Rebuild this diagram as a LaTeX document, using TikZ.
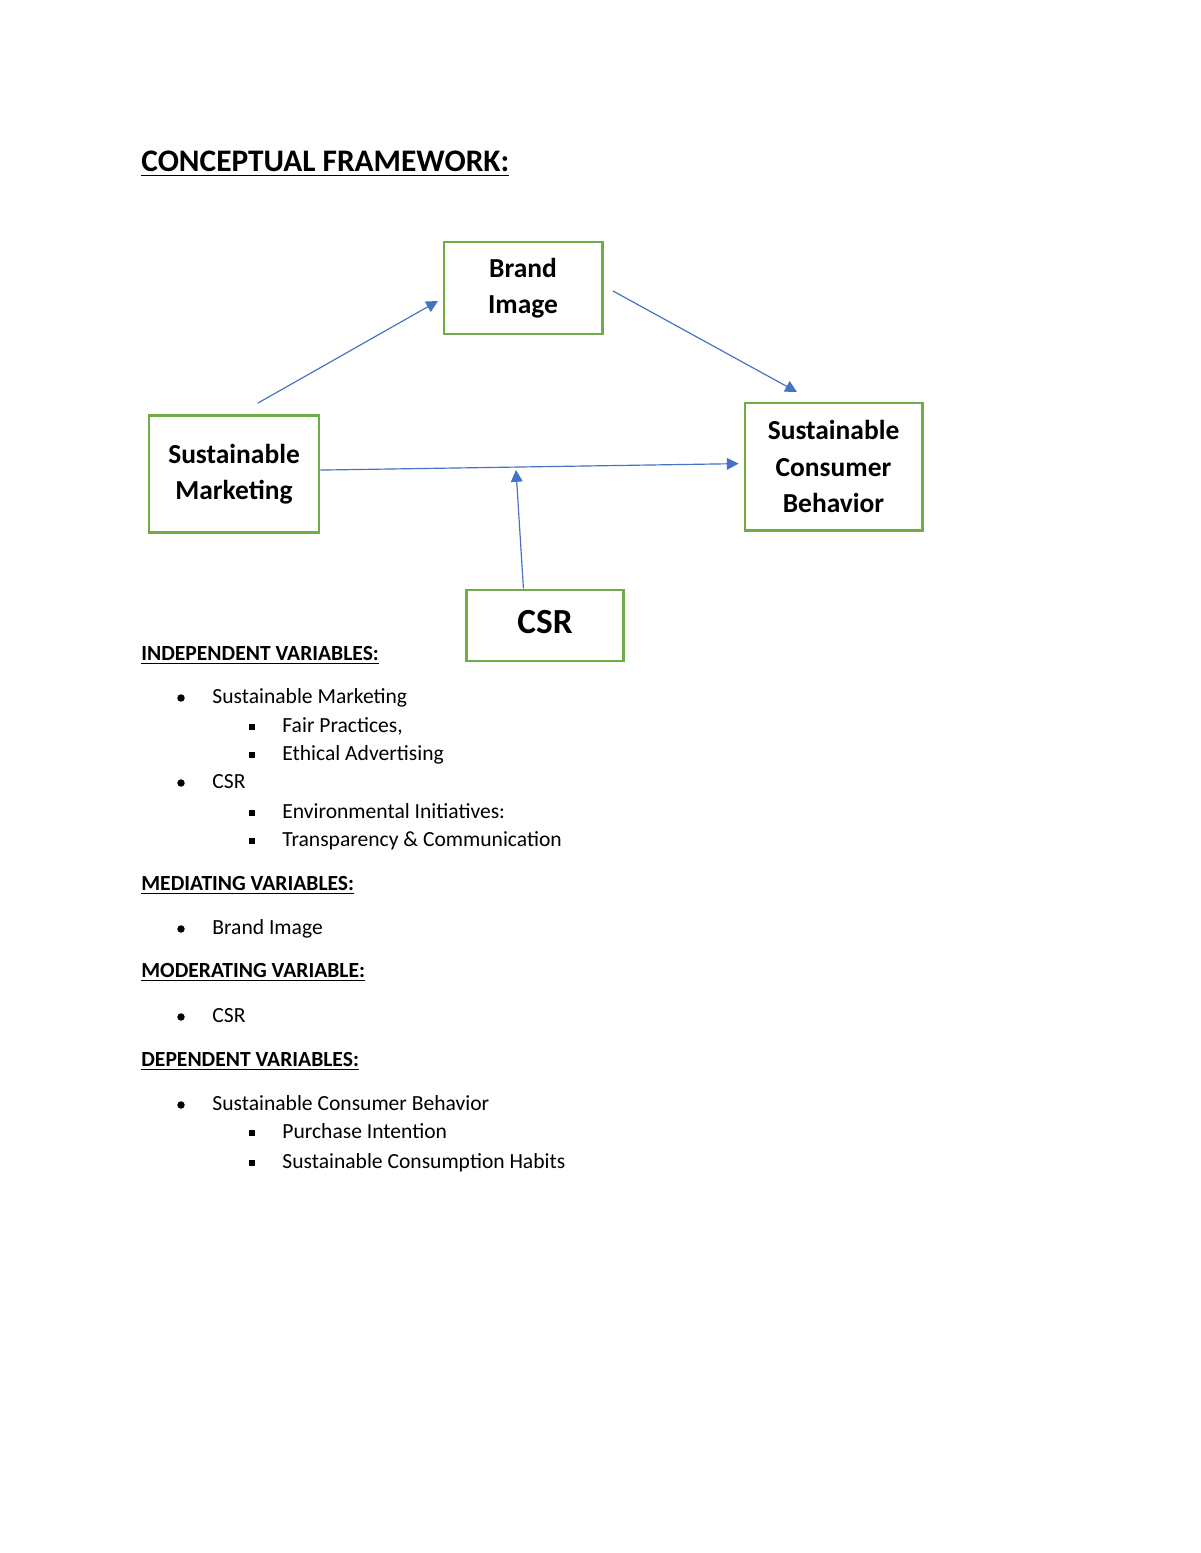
\documentclass[tikz,border=0pt]{standalone}
\usepackage{fontspec}
\setmainfont{Carlito}
\usetikzlibrary{arrows.meta}
\definecolor{boxgreen}{HTML}{70AD47}
\definecolor{linkblue}{HTML}{4472C4}
\tikzset{
  varbox/.style={draw=boxgreen, line width=1.5pt, align=center, inner sep=0pt,
    font=\fontsize{14}{18.4}\selectfont\bfseries},
  link/.style={draw=linkblue, line width=0.6pt, -{Triangle[length=6pt,width=6pt]}},
  head/.style={anchor=base west, inner sep=0pt, font=\fontsize{11}{13}\selectfont\bfseries},
  item/.style={anchor=base west, inner sep=0pt, font=\fontsize{11}{13}\selectfont},
}
\begin{document}
\begin{tikzpicture}[x=0.51pt,y=-0.51pt]
  \path[fill=white, use as bounding box] (0,0) rectangle (1200,1553);

  % title
  \node[anchor=base west, inner sep=0pt, font=\fontsize{16}{19}\selectfont\bfseries] (title) at (141,172) {\underline{CONCEPTUAL FRAMEWORK:}};

  % boxes
  \node[varbox, minimum width=80.6pt, minimum height=46.9pt] (brand) at (523,288) {Brand\\Image};
  \node[varbox, minimum width=86.7pt, minimum height=59.2pt] (smkt) at (234,474) {Sustainable\\Marketing};
  \node[varbox, minimum width=90.3pt, minimum height=64.8pt] (scb) at (833.5,466.5) {Sustainable\\Consumer\\Behavior};
  \node[varbox, minimum width=79.6pt, minimum height=36.2pt, text depth=4pt,
    font=\fontsize{18}{20}\selectfont\bfseries] (csr) at (545,625.5) {CSR};

  % arrows
  \coordinate (smtop) at (258,403);
  \coordinate (brandin) at (438,301);
  \coordinate (brandout) at (613,291);
  \coordinate (scbin) at (797,392);
  \coordinate (csrtip) at (516,470);
  \draw[link] (smtop) -- (brandin);
  \draw[link] (brandout) -- (scbin);
  \draw[link, shorten >=2.5pt] ([yshift=2pt]smkt.east) -- ([yshift=1.5pt]scb.west);
  \draw[link] ([xshift=-11pt]csr.north) -- (csrtip);

  % headings
  \node[head] (indep) at (141,660) {\underline{INDEPENDENT VARIABLES:}};
  \node[head] (medi) at (141,890) {\underline{MEDIATING VARIABLES:}};
  \node[head] (moder) at (141,977) {\underline{MODERATING VARIABLE:}};
  \node[head] (dep) at (141,1066) {\underline{DEPENDENT VARIABLES:}};

  % first level items
  \foreach \y/\txt [count=\i] in {703/Sustainable Marketing, 788/CSR, 934/Brand Image,
      1022/CSR, 1110/Sustainable Consumer Behavior} {
    \node[circle, fill, inner sep=0pt, minimum size=3.8pt] (dot\i) at (181,\y-5) {};
    \node[item] (main\i) at (212,\y) {\txt};
  }

  % second level items
  \foreach \y/\txt [count=\i] in {732/{Fair Practices,}, 760/Ethical Advertising,
      818/Environmental Initiatives:, 846/Transparency \& Communication,
      1138/Purchase Intention, 1168/Sustainable Consumption Habits} {
    \node[fill, inner sep=0pt, minimum size=3.2pt] (sq\i) at (252,\y-5) {};
    \node[item] (sub\i) at (282,\y) {\txt};
  }
\end{tikzpicture}
\end{document}
